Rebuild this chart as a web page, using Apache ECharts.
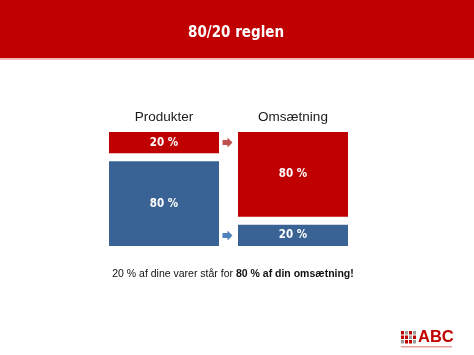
<!DOCTYPE html>
<html>
<head>
<meta charset="utf-8">
<script src="https://cdn.jsdelivr.net/npm/echarts@6/dist/echarts.min.js"></script>
<style>
html, body { margin: 0; padding: 0; background: #fff; }
#chart { width: 474px; height: 355px; }
</style>
</head>
<body>
<div id="chart"></div>
<script>
// data
const kategorier = ['Produkter', 'Omsætning'];
const blaa = [80, 20];       // nederste felt
const roed = [20, 80];       // øverste felt
const mellemrum = [7.5, 7.5]; // hvidt mellemrum mellem felterne

const ROED = '#c00000';
const BLAA = '#3a6395';

const chart = echarts.init(document.getElementById('chart'));

const feltLabel = {
    show: true,
    position: 'inside',
    color: '#fff',
    fontFamily: 'DejaVu Sans Condensed',
    fontWeight: 'bold',
    fontSize: 11.5,
    formatter: p => p.value + ' %'
};

chart.setOption({
    animation: false,
    title: [{
        text: '80/20 reglen',
        left: 183,
        top: 21,
        textStyle: { color: '#fff', fontFamily: 'DejaVu Sans Condensed', fontWeight: 'bold', fontSize: 15 }
    }],
    grid: { left: 99.5, right: 116.5, top: 132, bottom: 109 },
    xAxis: {
        type: 'category',
        position: 'top',
        data: kategorier,
        axisLine: { show: false },
        axisTick: { show: false },
        axisLabel: { margin: 8, color: '#1a1a1a', fontFamily: 'Liberation Sans', fontSize: 13.5 }
    },
    yAxis: {
        type: 'value',
        min: 0,
        max: 107.5,
        show: false
    },
    series: [{
        name: 'blaa',
        type: 'bar',
        stack: 'felt',
        barWidth: 110,
        data: blaa,
        itemStyle: { color: BLAA },
        label: feltLabel
    }, {
        name: 'mellemrum',
        type: 'bar',
        stack: 'felt',
        barWidth: 110,
        data: mellemrum,
        itemStyle: { color: 'rgba(0,0,0,0)' },
        silent: true
    }, {
        name: 'roed',
        type: 'bar',
        stack: 'felt',
        barWidth: 110,
        data: roed,
        itemStyle: { color: ROED },
        label: feltLabel
    }]
});

// pile mellem felterne, placeret ud fra akserne
const pil = (x, y, farve) => ({
    type: 'polygon',
    shape: { points: [[x - 5, y - 2.5], [x, y - 2.5], [x, y - 5], [x + 5, y], [x, y + 5], [x, y + 2.5], [x - 5, y + 2.5]] },
    style: { fill: farve }
});
const venstre = chart.convertToPixel({ gridIndex: 0 }, [0, 0]);
const hoejre = chart.convertToPixel({ gridIndex: 0 }, [1, 0]);
const pilX = (venstre[0] + hoejre[0]) / 2 - 1;
const roedY = chart.convertToPixel({ gridIndex: 0 }, [0, blaa[0] + mellemrum[0] + roed[0] / 2])[1];
const blaaY = chart.convertToPixel({ gridIndex: 0 }, [1, blaa[1] / 2])[1];

const logoFarver = ['#c00000', '#9a9a9a', '#c00000', '#9a9a9a', '#c00000', '#c00000', '#9a9a9a', '#c00000', '#9a9a9a', '#c00000', '#c00000', '#9a9a9a'];
const logoFelter = logoFarver.map((f, i) => ({
    type: 'rect',
    shape: { x: 401 + (i % 4) * 4, y: 331 + Math.floor(i / 4) * 4.5, width: 3, height: 3.5 },
    style: { fill: f }
}));

chart.setOption({
    graphic: [{
        type: 'rect',
        z: -1,
        shape: { x: 0, y: 0, width: 474, height: 58 },
        style: { fill: ROED }
    }, {
        type: 'rect',
        z: -1,
        shape: { x: 0, y: 58, width: 474, height: 2 },
        style: { fill: '#f2b8b8' }
    },
    pil(pilX, roedY, '#c0504d'),
    pil(pilX, blaaY, '#4f81bd'),
    {
        type: 'text',
        x: 233,
        y: 274,
        style: {
            text: '{n|20 % af dine varer står for }{b|80 % af din omsætning!}',
            align: 'center',
            verticalAlign: 'middle',
            rich: {
                n: { fontFamily: 'Liberation Sans', fontSize: 10.5, fill: '#111' },
                b: { fontFamily: 'Liberation Sans', fontSize: 10.5, fontWeight: 'bold', fill: '#111' }
            }
        }
    },
    ...logoFelter,
    {
        type: 'text',
        x: 418,
        y: 337.5,
        style: {
            text: 'ABC',
            fontFamily: 'Liberation Sans',
            fontWeight: 'bold',
            fontSize: 16.5,
            fill: ROED,
            verticalAlign: 'middle'
        }
    }, {
        type: 'rect',
        shape: { x: 401, y: 346, width: 51, height: 1.5 },
        style: { fill: '#e7a0a0' }
    }]
});
</script>
</body>
</html>
